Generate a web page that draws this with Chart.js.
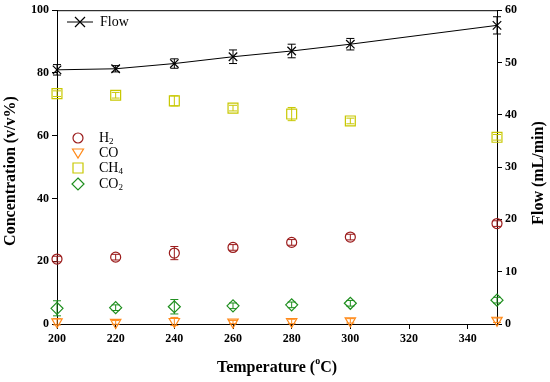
<!DOCTYPE html>
<html>
<head>
<meta charset="utf-8">
<script src="https://cdn.jsdelivr.net/npm/chart.js@4/dist/chart.umd.min.js"></script>
<style>
html,body{margin:0;padding:0;background:#fff;}
#wrap{width:550px;height:382px;}
</style>
</head>
<body>
<div id="wrap"><canvas id="c" width="550" height="382"></canvas></div>
<script>
const temperatures = [200, 220, 240, 260, 280, 300, 350];
const h2 = [20.7, 21.3, 22.6, 24.4, 26.0, 27.7, 32.0];
const h2Err = [0.9, 0.9, 2.1, 0.9, 0.9, 0.9, 0.9];
const co = [0.7, 0.5, 0.8, 0.6, 0.8, 1.0, 1.2];
const coErr = [1.0, 0.6, 1.3, 0.5, 0.7, 0.7, 0.7];
const ch4 = [73.4, 72.9, 71.1, 68.8, 66.9, 64.7, 59.5];
const ch4Err = [0.9, 0.9, 1.6, 0.9, 2.1, 0.9, 0.9];
const co2 = [5.0, 5.2, 5.5, 5.8, 6.1, 6.6, 7.6];
const co2Err = [2.4, 0.9, 2.3, 0.9, 0.9, 0.9, 0.9];
const flow = [48.6, 48.8, 49.8, 51.1, 52.2, 53.5, 57.1];
const flowErr = [1.0, 0.6, 0.9, 1.3, 1.3, 1.1, 1.65];
const xTicks = [200, 220, 240, 260, 280, 300, 320, 340];
const leftTicks = [0, 20, 40, 60, 80, 100];
const rightTicks = [0, 10, 20, 30, 40, 50, 60];

const C_H2 = '#9b1b1b', C_CO = '#ff8a1a', C_CH4 = '#c8c800', C_CO2 = '#1f8f1f';
const SERIF = '"Liberation Serif", "Times New Roman", serif';

function pts(arr){ return arr.map((v,i)=>({x: temperatures[i], y: v})); }

const errorBars = {
  id: 'errorBars',
  afterDatasetsDraw(chart){
    const ctx = chart.ctx;
    const xs = chart.scales.x;
    chart.data.datasets.forEach((ds)=>{
      if(!ds.errors) return;
      const ys = chart.scales[ds.yAxisID || 'y'];
      ctx.save();
      ctx.strokeStyle = ds.borderColor;
      ctx.lineWidth = 1;
      ds.data.forEach((p,i)=>{
        const e = ds.errors[i];
        const px = xs.getPixelForValue(p.x);
        const top = ys.getPixelForValue(p.y + e);
        const bot = ys.getPixelForValue(p.y - e);
        ctx.beginPath();
        ctx.moveTo(px, top); ctx.lineTo(px, bot);
        ctx.moveTo(px-4, top); ctx.lineTo(px+4, top);
        ctx.moveTo(px-4, bot); ctx.lineTo(px+4, bot);
        ctx.stroke();
      });
      ctx.restore();
    });
  }
};

function marker(ctx, type, x, y, color){
  ctx.save();
  ctx.strokeStyle = color; ctx.lineWidth = 1.2;
  ctx.beginPath();
  if(type==='circle'){ ctx.arc(x,y,5,0,Math.PI*2); }
  else if(type==='tri'){ ctx.moveTo(x-5.5,y-4); ctx.lineTo(x+5.5,y-4); ctx.lineTo(x,y+5); ctx.closePath(); }
  else if(type==='rect'){ ctx.rect(x-5,y-5,10,10); }
  else if(type==='diamond'){ ctx.moveTo(x,y-6); ctx.lineTo(x+6,y); ctx.lineTo(x,y+6); ctx.lineTo(x-6,y); ctx.closePath(); }
  else if(type==='cross'){ ctx.moveTo(x-5,y-5); ctx.lineTo(x+5,y+5); ctx.moveTo(x+5,y-5); ctx.lineTo(x-5,y+5); }
  ctx.stroke();
  ctx.restore();
}

function subText(ctx, parts, x, y){
  let cx = x;
  parts.forEach(([t, sub])=>{
    ctx.font = (sub ? '9px ' : '14px ') + SERIF;
    ctx.fillText(t, cx, sub ? y + 4 : y);
    cx += ctx.measureText(t).width;
  });
}

const decorations = {
  id: 'decorations',
  afterDraw(chart){
    const ctx = chart.ctx;
    const a = chart.chartArea;
    ctx.save();
    ctx.strokeStyle = '#000'; ctx.lineWidth = 1;
    ctx.beginPath(); ctx.moveTo(a.left, a.top+0.5); ctx.lineTo(a.right, a.top+0.5); ctx.stroke();
    // Flow legend
    ctx.beginPath(); ctx.moveTo(67, 22); ctx.lineTo(93, 22); ctx.stroke();
    marker(ctx, 'cross', 80, 22, '#000');
    ctx.fillStyle = '#000'; ctx.textBaseline = 'middle'; ctx.textAlign = 'left';
    ctx.font = '14px ' + SERIF;
    ctx.fillText('Flow', 100, 22);
    const items = [
      ['circle', C_H2, [['H',false],['2',true]], 138],
      ['tri', C_CO, [['CO',false]], 153],
      ['rect', C_CH4, [['CH',false],['4',true]], 168],
      ['diamond', C_CO2, [['CO',false],['2',true]], 184]
    ];
    items.forEach(([t,c,parts,y])=>{
      marker(ctx, t, 78, y, c);
      ctx.fillStyle = '#000';
      subText(ctx, parts, 99, y);
    });
    // x title with superscript
    ctx.textBaseline = 'alphabetic';
    const big = 'bold 16px ' + SERIF, small = 'bold 10px ' + SERIF;
    ctx.font = big; const w1 = ctx.measureText('Temperature (').width;
    ctx.font = small; const w2 = ctx.measureText('o').width;
    ctx.font = big; const w3 = ctx.measureText('C)').width;
    let sx = (a.left + a.right)/2 - (w1+w2+w3)/2;
    const by = 372;
    ctx.font = big; ctx.fillText('Temperature (', sx, by); sx += w1;
    ctx.font = small; ctx.fillText('o', sx, by - 8); sx += w2;
    ctx.font = big; ctx.fillText('C)', sx, by);
    // y titles (both read bottom to top)
    ctx.textAlign = 'center'; ctx.textBaseline = 'middle';
    ctx.font = big;
    ctx.save(); ctx.translate(11, 171); ctx.rotate(-Math.PI/2);
    ctx.fillText('Concentration (v/v%)', 0, 0); ctx.restore();
    ctx.save(); ctx.translate(539, 173); ctx.rotate(-Math.PI/2);
    ctx.fillText('Flow (mL/min)', 0, 0); ctx.restore();
    ctx.restore();
  }
};

const tickFont = { family: SERIF, size: 12, weight: 'bold' };
const gridOpts = { display: true, drawOnChartArea: false, drawTicks: true, tickLength: 5, color: '#000', lineWidth: 1 };

new Chart(document.getElementById('c'), {
  type: 'scatter',
  data: {
    datasets: [
      { label: 'Flow', data: pts(flow), errors: flowErr, yAxisID: 'y2', showLine: true, clip: false, borderColor: '#000', backgroundColor: '#000', borderWidth: 1, pointStyle: 'crossRot', pointRadius: 6, pointBorderWidth: 1.2 },
      { label: 'H2', data: pts(h2), errors: h2Err, yAxisID: 'y', clip: false, borderColor: C_H2, backgroundColor: 'rgba(0,0,0,0)', pointStyle: 'circle', pointRadius: 5, pointBorderWidth: 1.2 },
      { label: 'CO', data: pts(co), errors: coErr, yAxisID: 'y', clip: false, borderColor: C_CO, backgroundColor: 'rgba(0,0,0,0)', pointStyle: 'triangle', rotation: 180, pointRotation: 180, pointRadius: 6, pointBorderWidth: 1.2 },
      { label: 'CH4', data: pts(ch4), errors: ch4Err, yAxisID: 'y', clip: false, borderColor: C_CH4, backgroundColor: 'rgba(0,0,0,0)', pointStyle: 'rect', pointRadius: 7, pointBorderWidth: 1.2 },
      { label: 'CO2', data: pts(co2), errors: co2Err, yAxisID: 'y', clip: false, borderColor: C_CO2, backgroundColor: 'rgba(0,0,0,0)', pointStyle: 'rectRot', pointRadius: 6, pointBorderWidth: 1.2 }
    ]
  },
  options: {
    responsive: false,
    animation: false,
    layout: { padding: { top: 8, left: 0, right: 0, bottom: 0 } },
    plugins: { legend: { display: false }, tooltip: { enabled: false } },
    scales: {
      x: {
        type: 'linear', min: 200, max: 350,
        afterBuildTicks: s => { s.ticks = xTicks.map(v=>({value:v})); },
        ticks: { font: tickFont, color: '#000', padding: 3, maxRotation: 0 },
        grid: gridOpts,
        border: { display: true, color: '#000', width: 1 },
        afterFit: s => { s.height = 58; }
      },
      y: {
        position: 'left', min: 0, max: 100,
        afterBuildTicks: s => { s.ticks = leftTicks.map(v=>({value:v})); },
        ticks: { font: tickFont, color: '#000', padding: 3 },
        grid: gridOpts,
        border: { display: true, color: '#000', width: 1 },
        afterFit: s => { s.width = 57; }
      },
      y2: {
        position: 'right', min: 0, max: 60,
        afterBuildTicks: s => { s.ticks = rightTicks.map(v=>({value:v})); },
        ticks: { font: tickFont, color: '#000', padding: 3 },
        grid: gridOpts,
        border: { display: true, color: '#000', width: 1 },
        afterFit: s => { s.width = 53; }
      }
    }
  },
  plugins: [errorBars, decorations]
});
</script>
</body>
</html>
